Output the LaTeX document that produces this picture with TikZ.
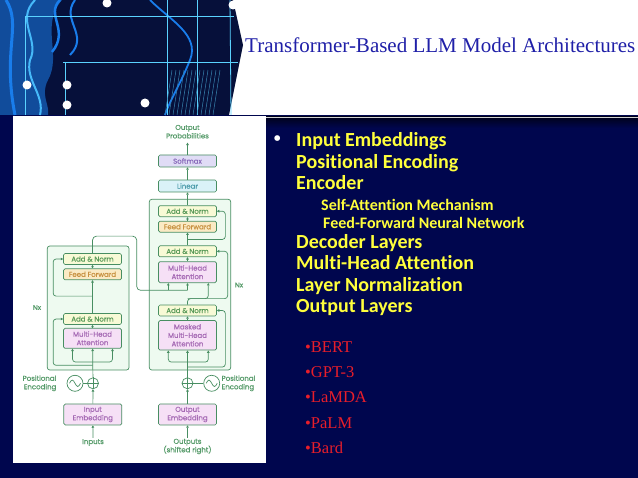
\documentclass[tikz,border=0pt]{standalone}
\usepackage{fontspec}
\setmainfont{Liberation Serif}
\newfontfamily\listfont{Carlito}[Ligatures=CommonOff]
\newfontfamily\diagfont{Poppins}[FakeBold=0.5]
\usetikzlibrary{positioning, arrows.meta, calc}

\definecolor{slidenavy}{RGB}{0,6,78}
\definecolor{titleblue}{RGB}{32,32,168}
\definecolor{listyellow}{RGB}{255,255,60}
\definecolor{listred}{RGB}{232,30,42}
\definecolor{tfgreen}{RGB}{72,142,98}
\definecolor{tflabel}{RGB}{85,155,105}
\definecolor{stackfill}{RGB}{238,250,240}
\definecolor{normfill}{RGB}{248,250,214}
\definecolor{normtext}{RGB}{90,155,90}
\definecolor{fffill}{RGB}{250,234,196}
\definecolor{fftext}{RGB}{200,145,65}
\definecolor{attnfill}{RGB}{246,224,246}
\definecolor{attntext}{RGB}{165,105,180}
\definecolor{softfill}{RGB}{224,220,246}
\definecolor{softtext}{RGB}{135,105,185}
\definecolor{linfill}{RGB}{218,242,248}
\definecolor{lintext}{RGB}{75,155,170}
\definecolor{circnavy}{RGB}{6,16,58}
\definecolor{traceblue}{RGB}{25,125,235}
\definecolor{tracecyan}{RGB}{90,210,255}

\begin{document}
\begin{tikzpicture}[
    x=1pt, y=-1pt,
    layer/.style={draw=tfgreen, line width=0.7pt, rounded corners=1.5pt, fill=#1, minimum width=58pt, minimum height=11pt, inner sep=0pt, font=\diagfont\fontsize{7}{8.5}\selectfont, align=center},
    norm/.style={layer=normfill, text=normtext},
    ff/.style={layer=fffill, text=fftext},
    attn/.style={layer=attnfill, text=attntext},
    soft/.style={layer=softfill, text=softtext, minimum height=12pt},
    lin/.style={layer=linfill, text=lintext, minimum height=12pt},
    wave/.style={circle, draw=tfgreen, line width=0.7pt, minimum size=16pt, inner sep=0pt},
    plus/.style={circle, draw=tfgreen, line width=0.7pt, minimum size=11pt, inner sep=0pt},
    stack/.style={draw=tfgreen, line width=0.7pt, rounded corners=2.5pt, fill=stackfill},
    flow/.style={draw=tfgreen, line width=0.7pt},
    arrow/.style={flow, -{Triangle[length=2.4pt, width=2.6pt]}},
    tflab/.style={font=\diagfont\fontsize{7}{8.5}\selectfont, text=tflabel, align=center, inner sep=1pt},
    bigitem/.style={font=\listfont\bfseries\fontsize{20}{21}\selectfont, text=listyellow, anchor=base west, inner sep=0pt},
    subitem/.style={font=\listfont\bfseries\fontsize{16}{17}\selectfont, text=listyellow, anchor=base west, inner sep=0pt},
    model/.style={font=\fontsize{16.5}{18}\selectfont, text=listred, anchor=base west, inner sep=0pt},
]
\useasboundingbox (0,0) rectangle (638,478);
\fill[white] (0,0) rectangle (638,478);

% Slide background
\fill[slidenavy] (0,115) rectangle (638,478);
\shade[top color=slidenavy!35!black, bottom color=slidenavy] (229,117) rectangle (638,128);
\draw[gray!35, line width=0.8pt] (229,117) -- (638,117);

% Circuit board picture (top left)
\fill[circnavy] (0,0) -- (233,0) -- (243,45) -- (229,115) -- (0,115) -- cycle;
\fill[traceblue!55!circnavy] (0,0) -- (62,0) .. controls (40,25) and (62,55) .. (48,80) .. controls (40,95) and (50,105) .. (48,115) -- (0,115) -- cycle;
\draw[traceblue, line width=3pt] (6,0) .. controls (22,25) and (2,50) .. (15,115);
\draw[tracecyan!70!traceblue, line width=2pt] (35,0) .. controls (15,20) and (40,40) .. (30,60) .. controls (25,80) and (45,95) .. (40,115);
\draw[traceblue, line width=2.5pt] (60,0) .. controls (45,15) and (70,30) .. (52,52);
\draw[traceblue, line width=2pt] (75,0) .. controls (60,20) and (90,35) .. (70,55);
\draw[traceblue, line width=1.8pt] (150,0) .. controls (170,20) and (200,35) .. (190,60) .. controls (180,85) and (170,100) .. (165,115);
\draw[tracecyan, line width=1pt] (25,17) -- (234,17);
\draw[tracecyan, line width=1pt] (63,63) -- (238,63);
\draw[tracecyan, line width=1pt] (25,17) -- (25,115);
\draw[tracecyan, line width=1pt] (65,63) -- (65,115);
\draw[tracecyan, line width=1pt] (167,0) -- (167,115);
\draw[tracecyan, line width=0.8pt] (197,0) -- (197,115);
\draw[tracecyan, line width=0.8pt] (230,0) -- (231,115);
\foreach \i in {0,...,12}
    \draw[tracecyan!60!circnavy, line width=0.5pt] (172+4*\i,70) -- (165+4*\i,115);
\foreach \p in {(107,3),(27,85),(67,85),(67,105),(145,103),(233,5)}
    \fill[white] \p circle (4.5);

% Title
\node[font=\fontsize{21}{24}\selectfont, text=titleblue, anchor=base west, inner sep=0pt] (title) at (245,53) {Transformer-Based LLM Model Architectures};

% Transformer figure
\fill[white] (13,116.5) rectangle (266,463);
\draw[stack] (47.3,246) rectangle (129,370);
\draw[stack] (149.3,199.3) rectangle (230.7,370);

% Decoder column
\node[soft] (softmax) at (187.5,161) {Softmax};
\node[lin] (linear) at (187.5,186) {Linear};
\node[norm] (dnorm3) at (187.5,211.2) {Add \& Norm};
\node[ff] (dff) at (187.5,226.7) {Feed Forward};
\node[norm] (dnorm2) at (187.5,251.3) {Add \& Norm};
\node[attn, minimum height=21pt] (dattn) at (187.5,272.2) {Multi-Head\\Attention};
\node[norm] (dnorm1) at (187.5,310.5) {Add \& Norm};
\node[attn, minimum height=29.5pt] (dmask) at (187.5,335.3) {Masked\\Multi-Head\\Attention};
\node[plus] (dplus) at (187.5,383.3) {};
\node[wave] (dsine) at (211.7,383.3) {};
\node[attn, minimum height=21pt] (demb) at (187.5,414.5) {Output\\Embedding};

% Encoder column
\node[norm] (enorm2) at (92.5,259) {Add \& Norm};
\node[ff] (eff) at (92.5,274.3) {Feed Forward};
\node[norm] (enorm1) at (92.5,319) {Add \& Norm};
\node[attn, minimum height=20pt] (eattn) at (92.5,338.3) {Multi-Head\\Attention};
\node[plus] (eplus) at (93,383.3) {};
\node[wave] (esine) at (75,383.3) {};
\node[attn, minimum height=21pt] (eemb) at (92.8,414.5) {Input\\Embedding};

% Labels
\node[tflab] (outprob) at (187.5,131.7) {Output\\Probabilities};
\node[tflab, anchor=east, align=right] (epos) at (57.5,383.3) {Positional\\Encoding};
\node[tflab, anchor=west, align=left] (dpos) at (220.5,383.3) {Positional\\Encoding};
\node[tflab] (inputs) at (93,442.5) {Inputs};
\node[tflab] (outputs) at (187.5,446.5) {Outputs\\(shifted right)};
\node[tflab] (enx) at (37,307.5) {Nx};
\node[tflab] (dnx) at (239,285) {Nx};

% Plus and sine symbols
\draw[flow] (eplus.north) -- (eplus.south) (eplus.west) -- (eplus.east);
\draw[flow] (dplus.north) -- (dplus.south) (dplus.west) -- (dplus.east);
\draw[flow] ($(esine.center)+(-5.5,0)$) sin ++(2.75,-3.2) cos ++(2.75,3.2) sin ++(2.75,3.2) cos ++(2.75,-3.2);
\draw[flow] ($(dsine.center)+(-5.5,0)$) sin ++(2.75,-3.2) cos ++(2.75,3.2) sin ++(2.75,3.2) cos ++(2.75,-3.2);
\draw[flow] (esine) -- (eplus);
\draw[flow] (dsine) -- (dplus);

% Encoder flow
\draw[arrow] (inputs) -- (eemb);
\draw[arrow] (eemb) -- (eplus);
\draw[arrow] (eplus) -- (eattn);
\draw[arrow, rounded corners=3pt] ($(eattn.south)+(0,13.4)$) -| ($(eattn.south)+(-20,0)$);
\draw[arrow, rounded corners=3pt] ($(eattn.south)+(0,13.4)$) -| ($(eattn.south)+(20,0)$);
\draw[arrow, rounded corners=3pt] ($(eattn.south)+(0,16.7)$) -| ($(enorm1.west)+(-10,0)$) -- (enorm1.west);
\draw[arrow] (eattn) -- (enorm1);
\draw[arrow] (enorm1) -- (eff);
\draw[arrow, rounded corners=3pt] ($(enorm1.north)+(0,-17)$) -| ($(enorm2.west)+(-10,0)$) -- (enorm2.west);
\draw[arrow] (eff) -- (enorm2);

% Encoder output into decoder
\coordinate (encout) at ($(enorm2.north)+(44.2,-17)$);
\coordinate (kvline) at ($(dattn.south)+(0,7.3)$);
\draw[flow, rounded corners=4pt] (enorm2.north) |- (encout) |- (kvline);
\draw[arrow] (kvline) -- (dattn.south);
\draw[arrow] ($(kvline)+(-19.2,0)$) -- ($(dattn.south)+(-19.2,0)$);

% Decoder flow
\draw[arrow] (outputs) -- (demb);
\draw[arrow] (demb) -- (dplus);
\draw[arrow] (dplus) -- (dmask);
\draw[arrow, rounded corners=3pt] ($(dmask.south)+(0,11.7)$) -| ($(dmask.south)+(-19.2,0)$);
\draw[arrow, rounded corners=3pt] ($(dmask.south)+(0,11.7)$) -| ($(dmask.south)+(20.8,0)$);
\draw[arrow, rounded corners=3pt] ($(dmask.south)+(0,16.7)$) -| ($(dnorm1.east)+(8.5,0)$) -- (dnorm1.east);
\draw[arrow] (dmask) -- (dnorm1);
\coordinate (qturn) at ($(dnorm1.north)+(0,-6)$);
\draw[arrow, rounded corners=3pt] (dnorm1.north) -- (qturn) -| ($(dattn.south)+(20.8,0)$);
\draw[arrow, rounded corners=3pt] (qturn) -| ($(dnorm2.east)+(10.8,0)$) -- (dnorm2.east);
\draw[arrow] (dattn) -- (dnorm2);
\draw[arrow] (dnorm2) -- (dff);
\draw[arrow, rounded corners=3pt] ($(dnorm2.north)+(0,-6)$) -| ($(dnorm3.east)+(8.5,0)$) -- (dnorm3.east);
\draw[arrow] (dff) -- (dnorm3);
\draw[arrow] (dnorm3) -- (linear);
\draw[arrow] (linear) -- (softmax);
\draw[arrow] (softmax) -- ($(outprob.south)+(0,3)$);

% Bullet list
\node[anchor=base west, inner sep=0pt, text=white, font=\fontsize{24}{24}\selectfont] (bullet) at (272.8,147) {•};
\node[bigitem] (inemb) at (296,147) {Input Embeddings};
\node[bigitem] (posenc) at (296,168.5) {Positional Encoding};
\node[bigitem] (encoder) at (296,189.5) {Encoder};
\node[subitem] (selfattn) at (321,210.7) {Self-Attention Mechanism};
\node[subitem] (ffnet) at (323,228.7) {Feed-Forward Neural Network};
\node[bigitem] (declayers) at (296,249) {Decoder Layers};
\node[bigitem] (mhattn) at (296,270) {Multi-Head Attention};
\node[bigitem] (layernorm) at (296,291.5) {Layer Normalization};
\node[bigitem] (outlayers) at (296,312.5) {Output Layers};

% Models
\node[model] (bert) at (305,352.7) {•BERT};
\node[model] (gpt) at (305,377.5) {•GPT-3};
\node[model] (lamda) at (305,403) {•LaMDA};
\node[model] (palm) at (305,428.5) {•PaLM};
\node[model] (bard) at (305,454) {•Bard};

\end{tikzpicture}
\end{document}
